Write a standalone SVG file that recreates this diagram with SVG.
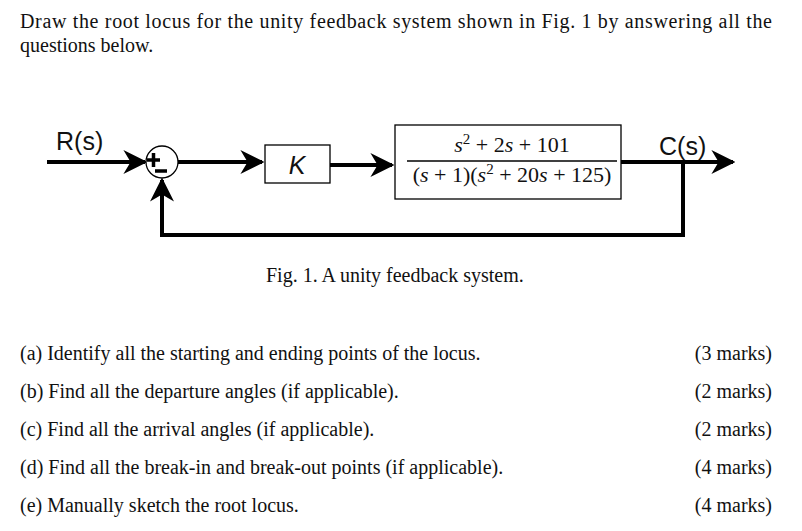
<svg xmlns="http://www.w3.org/2000/svg" width="802" height="531" viewBox="0 0 802 531">
<style>
.t{font-family:"Liberation Serif",serif;font-size:20px;fill:#111}
.a{font-family:"Liberation Sans",sans-serif;font-size:25px;fill:#111}
.m{font-family:"Liberation Serif",serif;font-size:22px;fill:#111}
.w{stroke:#000;stroke-width:4;fill:none}
.b{stroke:#000;stroke-width:1.3;fill:#fff}
</style>
<defs><marker id="ah" viewBox="0 0 10 10" refX="9" refY="5" markerWidth="6" markerHeight="6" orient="auto"><path d="M0,0 L10,5 L0,10 L3,5 z" fill="#000"/></marker></defs>
<rect width="802" height="531" fill="#fff"/>
<text class="t" x="20" y="28" textLength="752" lengthAdjust="spacing">Draw the root locus for the unity feedback system shown in Fig. 1 by answering all the</text>
<text class="t" x="20" y="52">questions below.</text>
<g id="connectors" class="w">
<path d="M47,162 H145" marker-end="url(#ah)"/>
<path d="M178,162 H262" marker-end="url(#ah)"/>
<path d="M330,165 H392" marker-end="url(#ah)"/>
<path d="M621,162 H733" marker-end="url(#ah)"/>
<path d="M683,162 V235 H162 V180" marker-end="url(#ah)"/>
</g>
<g id="sum"><circle cx="162" cy="162" r="16" class="b" stroke-width="1.5"/>
<path d="M147,160 H160 M153.5,153 V167 M155,171 H167" stroke="#000" stroke-width="3.5"/></g>
<g id="R"><text class="a" x="56" y="150">R(s)</text></g>
<g id="K"><rect x="265" y="145" width="65" height="38" class="b"/><text class="a" x="297" y="174" text-anchor="middle" font-style="italic">K</text></g>
<g id="G"><rect x="395" y="125" width="226" height="74" class="b"/>
<line x1="407" y1="161" x2="617" y2="161" stroke="#000" stroke-width="1.3"/>
<text class="m" x="512" y="152" text-anchor="middle"><tspan font-style="italic">s</tspan><tspan dy="-8" font-size="15">2</tspan><tspan dy="8"> + 2</tspan><tspan font-style="italic">s</tspan> + 101</text>
<text class="m" x="512" y="182" text-anchor="middle">(<tspan font-style="italic">s</tspan> + 1)(<tspan font-style="italic">s</tspan><tspan dy="-8" font-size="15">2</tspan><tspan dy="8"> + 20</tspan><tspan font-style="italic">s</tspan> + 125)</text></g>
<g id="C"><text class="a" x="659" y="155">C(s)</text></g>
<text class="t" x="266" y="282">Fig. 1. A unity feedback system.</text>
<g class="t">
<text x="20" y="360">(a) Identify all the starting and ending points of the locus.</text>
<text x="20" y="398">(b) Find all the departure angles (if applicable).</text>
<text x="20" y="436">(c) Find all the arrival angles (if applicable).</text>
<text x="20" y="474">(d) Find all the break-in and break-out points (if applicable).</text>
<text x="20" y="512">(e) Manually sketch the root locus.</text>
<text x="772" y="360" text-anchor="end">(3 marks)</text>
<text x="772" y="398" text-anchor="end">(2 marks)</text>
<text x="772" y="436" text-anchor="end">(2 marks)</text>
<text x="772" y="474" text-anchor="end">(4 marks)</text>
<text x="772" y="512" text-anchor="end">(4 marks)</text>
</g>
</svg>
